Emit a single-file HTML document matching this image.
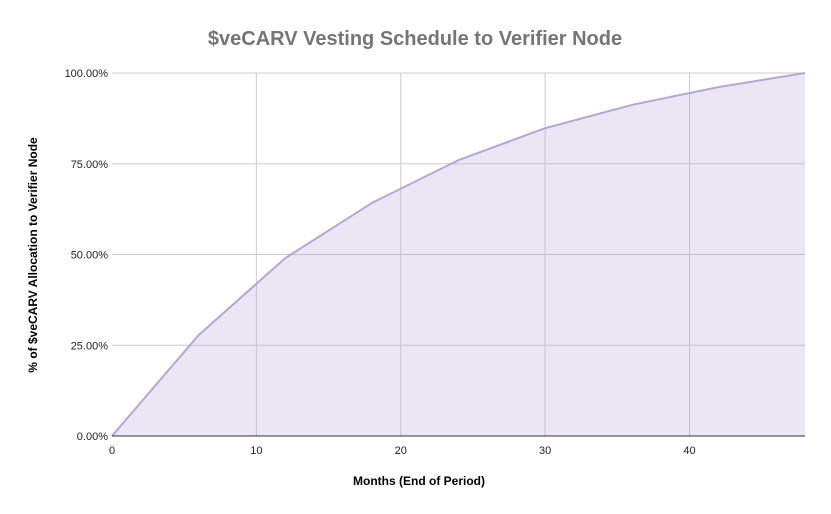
<!DOCTYPE html>
<html><head><meta charset="utf-8"><style>
body{margin:0;background:#fff;font-family:"Liberation Sans",Arial,sans-serif;}
svg{display:block}
</style></head><body>
<svg id="chart" width="831" height="514">
<rect width="831" height="514" fill="#fff"/>
<text x="415" y="45" text-anchor="middle" font-size="20" font-weight="bold" fill="#757575">$veCARV Vesting Schedule to Verifier Node</text>
<g id="grid"></g>
<g id="marks"></g>
<g id="axes"></g>
<text x="419" y="485" text-anchor="middle" font-size="12" font-weight="bold" fill="#000">Months (End of Period)</text>
<text transform="translate(37,255) rotate(-90)" text-anchor="middle" font-size="12" font-weight="bold" fill="#000">% of $veCARV Allocation to Verifier Node</text>
</svg>
<script>
const months=[0,6,12,18,24,30,36,42,48];
const vested=[0,27.8,49.0,64.2,76.0,84.8,91.2,96.1,100];
const xTicks=[0,10,20,30,40];
const yTicks=[0,25,50,75,100];
const yTickLabels=["0.00%","25.00%","50.00%","75.00%","100.00%"];
const X0=112,X1=805,Y0=436,Y1=73;
const xs=v=>X0+(v-0)/(48-0)*(X1-X0);
const ys=v=>Y0-(v/100)*(Y0-Y1);
const NS="http://www.w3.org/2000/svg";
function mk(tag,attrs,parent){const e=document.createElementNS(NS,tag);for(const k in attrs)e.setAttribute(k,attrs[k]);parent.appendChild(e);return e;}
const grid=document.getElementById('grid'),marks=document.getElementById('marks'),axes=document.getElementById('axes');
yTicks.forEach((t,i)=>{
  if(t>0){const l=mk('line',{x1:X0,x2:X1,y1:ys(t),y2:ys(t),stroke:'#cccccc','stroke-width':1},grid);
  
  }
  const tx=mk('text',{x:X0-4,y:ys(t)+4,'text-anchor':'end','font-size':11,fill:'#222'},axes);
  tx.textContent=yTickLabels[i];
  
  
});
xTicks.forEach(t=>{
  if(t>0){const l=mk('line',{x1:xs(t),x2:xs(t),y1:Y1,y2:Y0,stroke:'#cccccc','stroke-width':1},grid);
  
  }
  const tx=mk('text',{x:xs(t),y:Y0+18,'text-anchor':'middle','font-size':11,fill:'#222'},axes);
  tx.textContent=t;
  
  
});
const pts=months.map((m,i)=>xs(m)+','+ys(vested[i]));
const area=mk('polygon',{points:xs(months[0])+','+Y0+' '+pts.join(' ')+' '+xs(months[months.length-1])+','+Y0,fill:'#b4a7d6','fill-opacity':0.28},marks);


const line=mk('polyline',{points:pts.join(' '),fill:'none',stroke:'#b4a7d6','stroke-width':2},marks);


const xa=mk('line',{x1:X0,x2:X1,y1:Y0,y2:Y0,stroke:'#333','stroke-width':1},axes);


</script>
</body></html>
